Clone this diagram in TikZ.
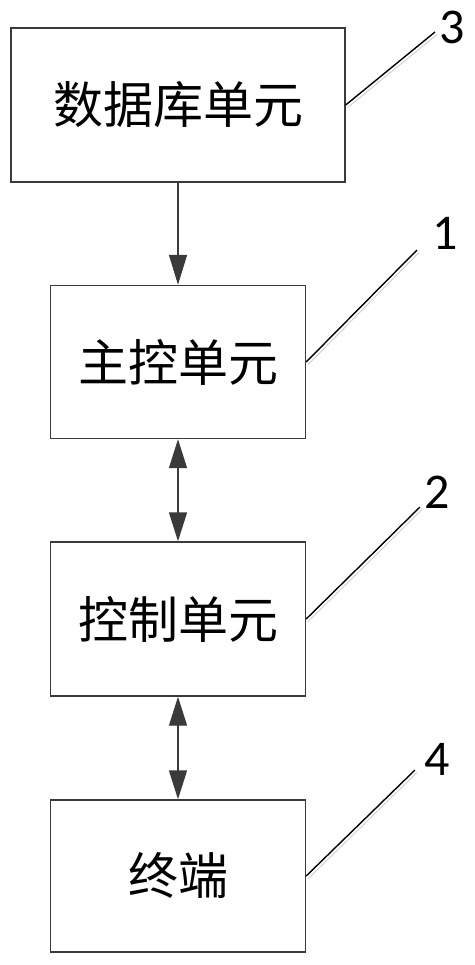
\documentclass[tikz,border=0pt]{standalone}
\usepackage{fontspec}
\usepackage{tikz}
\usetikzlibrary{arrows.meta}
\newfontfamily\cjk{Noto Sans CJK SC}
\newfontfamily\numfont{Carlito}
\definecolor{linegray}{HTML}{3A3A3A}

\begin{document}
\begin{tikzpicture}[x=1pt,y=-1pt,
	box/.style={draw=linegray,line width=1.4pt,inner sep=0pt,minimum width=255pt,minimum height=153pt,font=\cjk\fontsize{50}{60}\selectfont},
	flow/.style={draw=linegray,line width=1.4pt,-{Triangle[length=30pt,width=18pt]}},
	flowboth/.style={draw=linegray,line width=1.4pt,{Triangle[length=29pt,width=18pt]}-{Triangle[length=29pt,width=18pt]}},
	leader/.style={draw=black,line width=1.4pt,preaction={draw=gray!35,line width=1pt,transform canvas={shift={(2pt,-2.5pt)}}}},
	tag/.style={font=\numfont\fontsize{50}{60}\selectfont,inner sep=0pt}]
	\useasboundingbox (0,0) rectangle (474,965);
	%\draw[gray] (0,0) grid[step=50] (474,965);
	\node[box,minimum width=334pt,minimum height=154pt] (db) at (178,105) {数据库单元};
	\node[box] (main) at (178,362) {主控单元};
	\node[box,minimum height=154pt] (ctrl) at (178,619) {控制单元};
	\node[box,minimum height=152pt] (term) at (178,876) {终端};
	\draw[flow] (db.south) -- (main.north);
	\draw[flowboth] (main.south) -- (ctrl.north);
	\draw[flowboth] (ctrl.south) -- (term.north);
	% part numbers
	\coordinate (e3) at (435,32);
	\coordinate (e1) at (417,250);
	\coordinate (e2) at (420,507);
	\coordinate (e4) at (415,770);
	\draw[leader] (db.east) -- (e3);
	\draw[leader] (main.east) -- (e1);
	\draw[leader] (ctrl.east) -- (e2);
	\draw[leader] (term.east) -- (e4);
	\node[tag] (n3) at (452,27) {3};
	\node[tag] (n1) at (445,233) {1};
	\node[tag] (n2) at (437,492) {2};
	\node[tag] (n4) at (437,759) {4};
\end{tikzpicture}
\end{document}
